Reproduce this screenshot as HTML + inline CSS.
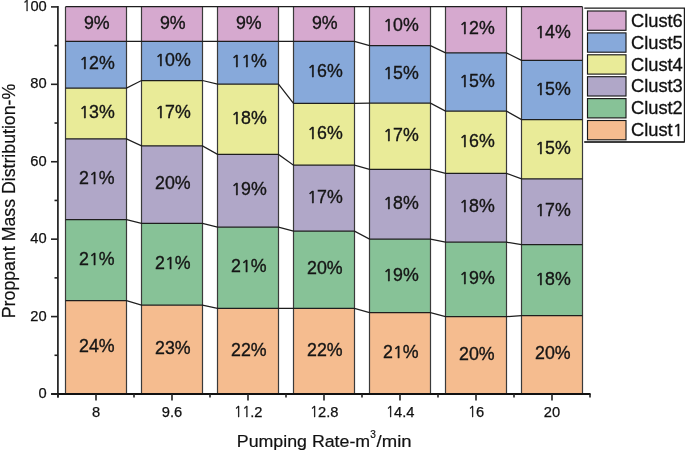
<!DOCTYPE html><html><head><meta charset="utf-8"><style>html,body{margin:0;padding:0;background:#fff;}svg{display:block;}text{font-family:"Liberation Sans",Arial,sans-serif;}</style></head><body>
<svg width="685" height="450" viewBox="0 0 685 450">
<rect width="685" height="450" fill="#fff"/>
<rect x="65.5" y="6.7" width="61" height="34.6" fill="#D6A9CF"/>
<rect x="65.5" y="41.3" width="61" height="46.7" fill="#87A9DA"/>
<rect x="65.5" y="88" width="61" height="50.9" fill="#E9EB98"/>
<rect x="65.5" y="138.9" width="61" height="80.7" fill="#B0A7C8"/>
<rect x="65.5" y="219.6" width="61" height="81.1" fill="#87C297"/>
<rect x="65.5" y="300.7" width="61" height="93.3" fill="#F5BC8F"/>
<rect x="141.5" y="6.7" width="61" height="34.6" fill="#D6A9CF"/>
<rect x="141.5" y="41.3" width="61" height="39.2" fill="#87A9DA"/>
<rect x="141.5" y="80.5" width="61" height="65.4" fill="#E9EB98"/>
<rect x="141.5" y="145.9" width="61" height="77.4" fill="#B0A7C8"/>
<rect x="141.5" y="223.3" width="61" height="81.8" fill="#87C297"/>
<rect x="141.5" y="305.1" width="61" height="88.9" fill="#F5BC8F"/>
<rect x="217.5" y="6.7" width="61" height="34.6" fill="#D6A9CF"/>
<rect x="217.5" y="41.3" width="61" height="42.7" fill="#87A9DA"/>
<rect x="217.5" y="84" width="61" height="70.4" fill="#E9EB98"/>
<rect x="217.5" y="154.4" width="61" height="72.7" fill="#B0A7C8"/>
<rect x="217.5" y="227.1" width="61" height="81.3" fill="#87C297"/>
<rect x="217.5" y="308.4" width="61" height="85.6" fill="#F5BC8F"/>
<rect x="293.5" y="6.7" width="61" height="34.6" fill="#D6A9CF"/>
<rect x="293.5" y="41.3" width="61" height="62" fill="#87A9DA"/>
<rect x="293.5" y="103.3" width="61" height="61.9" fill="#E9EB98"/>
<rect x="293.5" y="165.2" width="61" height="65.9" fill="#B0A7C8"/>
<rect x="293.5" y="231.1" width="61" height="77.3" fill="#87C297"/>
<rect x="293.5" y="308.4" width="61" height="85.6" fill="#F5BC8F"/>
<rect x="369.5" y="6.7" width="61" height="38.9" fill="#D6A9CF"/>
<rect x="369.5" y="45.6" width="61" height="57.5" fill="#87A9DA"/>
<rect x="369.5" y="103.1" width="61" height="66.2" fill="#E9EB98"/>
<rect x="369.5" y="169.3" width="61" height="69.8" fill="#B0A7C8"/>
<rect x="369.5" y="239.1" width="61" height="73.6" fill="#87C297"/>
<rect x="369.5" y="312.7" width="61" height="81.3" fill="#F5BC8F"/>
<rect x="445.5" y="6.7" width="61" height="46.2" fill="#D6A9CF"/>
<rect x="445.5" y="52.9" width="61" height="58.2" fill="#87A9DA"/>
<rect x="445.5" y="111.1" width="61" height="62.2" fill="#E9EB98"/>
<rect x="445.5" y="173.3" width="61" height="68.9" fill="#B0A7C8"/>
<rect x="445.5" y="242.2" width="61" height="74.5" fill="#87C297"/>
<rect x="445.5" y="316.7" width="61" height="77.3" fill="#F5BC8F"/>
<rect x="521.5" y="6.7" width="61" height="53.7" fill="#D6A9CF"/>
<rect x="521.5" y="60.4" width="61" height="59.2" fill="#87A9DA"/>
<rect x="521.5" y="119.6" width="61" height="59.3" fill="#E9EB98"/>
<rect x="521.5" y="178.9" width="61" height="65.8" fill="#B0A7C8"/>
<rect x="521.5" y="244.7" width="61" height="70.9" fill="#87C297"/>
<rect x="521.5" y="315.6" width="61" height="78.4" fill="#F5BC8F"/>
<g stroke="#3a3a3a" stroke-width="1.2">
<line x1="65.5" y1="6.7" x2="65.5" y2="394"/>
<line x1="126.5" y1="6.7" x2="126.5" y2="394"/>
<line x1="141.5" y1="6.7" x2="141.5" y2="394"/>
<line x1="202.5" y1="6.7" x2="202.5" y2="394"/>
<line x1="217.5" y1="6.7" x2="217.5" y2="394"/>
<line x1="278.5" y1="6.7" x2="278.5" y2="394"/>
<line x1="293.5" y1="6.7" x2="293.5" y2="394"/>
<line x1="354.5" y1="6.7" x2="354.5" y2="394"/>
<line x1="369.5" y1="6.7" x2="369.5" y2="394"/>
<line x1="430.5" y1="6.7" x2="430.5" y2="394"/>
<line x1="445.5" y1="6.7" x2="445.5" y2="394"/>
<line x1="506.5" y1="6.7" x2="506.5" y2="394"/>
<line x1="521.5" y1="6.7" x2="521.5" y2="394"/>
<line x1="582.5" y1="6.7" x2="582.5" y2="394"/>
</g>
<g stroke="#1e1e1e" stroke-width="1.25" fill="none">
<polyline points="65.5,6.7 126.5,6.7 141.5,6.7 202.5,6.7 217.5,6.7 278.5,6.7 293.5,6.7 354.5,6.7 369.5,6.7 430.5,6.7 445.5,6.7 506.5,6.7 521.5,6.7 582.5,6.7"/>
<polyline points="65.5,41.3 126.5,41.3 141.5,41.3 202.5,41.3 217.5,41.3 278.5,41.3 293.5,41.3 354.5,41.3 369.5,45.6 430.5,45.6 445.5,52.9 506.5,52.9 521.5,60.4 582.5,60.4"/>
<polyline points="65.5,88 126.5,88 141.5,80.5 202.5,80.5 217.5,84 278.5,84 293.5,103.3 354.5,103.3 369.5,103.1 430.5,103.1 445.5,111.1 506.5,111.1 521.5,119.6 582.5,119.6"/>
<polyline points="65.5,138.9 126.5,138.9 141.5,145.9 202.5,145.9 217.5,154.4 278.5,154.4 293.5,165.2 354.5,165.2 369.5,169.3 430.5,169.3 445.5,173.3 506.5,173.3 521.5,178.9 582.5,178.9"/>
<polyline points="65.5,219.6 126.5,219.6 141.5,223.3 202.5,223.3 217.5,227.1 278.5,227.1 293.5,231.1 354.5,231.1 369.5,239.1 430.5,239.1 445.5,242.2 506.5,242.2 521.5,244.7 582.5,244.7"/>
<polyline points="65.5,300.7 126.5,300.7 141.5,305.1 202.5,305.1 217.5,308.4 278.5,308.4 293.5,308.4 354.5,308.4 369.5,312.7 430.5,312.7 445.5,316.7 506.5,316.7 521.5,315.6 582.5,315.6"/>
</g>
<g font-size="17.8" fill="#151515" stroke="#151515" stroke-width="0.35" text-anchor="middle">
<text x="96.8" y="28.6">9%</text>
<text x="96.8" y="69.25"><tspan font-family="NanumGothic, sans-serif" font-size="16.6" stroke="#151515" stroke-width="0.6" dx="0.21">1</tspan><tspan dx="-0.37">2</tspan>%</text>
<text x="96.8" y="118.05"><tspan font-family="NanumGothic, sans-serif" font-size="16.6" stroke="#151515" stroke-width="0.6" dx="0.21">1</tspan><tspan dx="-0.37">3</tspan>%</text>
<text x="96.8" y="183.85">2<tspan font-family="NanumGothic, sans-serif" font-size="16.6" stroke="#151515" stroke-width="0.6" dx="0.21">1</tspan><tspan dx="-0.37">%</tspan></text>
<text x="96.8" y="264.75">2<tspan font-family="NanumGothic, sans-serif" font-size="16.6" stroke="#151515" stroke-width="0.6" dx="0.21">1</tspan><tspan dx="-0.37">%</tspan></text>
<text x="96.8" y="351.95">24%</text>
<text x="172.8" y="28.6">9%</text>
<text x="172.8" y="65.5"><tspan font-family="NanumGothic, sans-serif" font-size="16.6" stroke="#151515" stroke-width="0.6" dx="0.21">1</tspan><tspan dx="-0.37">0</tspan>%</text>
<text x="172.8" y="117.8"><tspan font-family="NanumGothic, sans-serif" font-size="16.6" stroke="#151515" stroke-width="0.6" dx="0.21">1</tspan><tspan dx="-0.37">7</tspan>%</text>
<text x="172.8" y="189.2">20%</text>
<text x="172.8" y="268.8">2<tspan font-family="NanumGothic, sans-serif" font-size="16.6" stroke="#151515" stroke-width="0.6" dx="0.21">1</tspan><tspan dx="-0.37">%</tspan></text>
<text x="172.8" y="354.15">23%</text>
<text x="248.8" y="28.6">9%</text>
<text x="248.8" y="67.25"><tspan font-family="NanumGothic, sans-serif" font-size="16.6" stroke="#151515" stroke-width="0.6" dx="0.21">1</tspan><tspan font-family="NanumGothic, sans-serif" font-size="16.6" stroke="#151515" stroke-width="0.6" dx="-0.16">1</tspan><tspan dx="-0.37">%</tspan></text>
<text x="248.8" y="123.8"><tspan font-family="NanumGothic, sans-serif" font-size="16.6" stroke="#151515" stroke-width="0.6" dx="0.21">1</tspan><tspan dx="-0.37">8</tspan>%</text>
<text x="248.8" y="195.35"><tspan font-family="NanumGothic, sans-serif" font-size="16.6" stroke="#151515" stroke-width="0.6" dx="0.21">1</tspan><tspan dx="-0.37">9</tspan>%</text>
<text x="248.8" y="272.35">2<tspan font-family="NanumGothic, sans-serif" font-size="16.6" stroke="#151515" stroke-width="0.6" dx="0.21">1</tspan><tspan dx="-0.37">%</tspan></text>
<text x="248.8" y="355.8">22%</text>
<text x="324.8" y="28.6">9%</text>
<text x="324.8" y="76.9"><tspan font-family="NanumGothic, sans-serif" font-size="16.6" stroke="#151515" stroke-width="0.6" dx="0.21">1</tspan><tspan dx="-0.37">6</tspan>%</text>
<text x="324.8" y="138.85"><tspan font-family="NanumGothic, sans-serif" font-size="16.6" stroke="#151515" stroke-width="0.6" dx="0.21">1</tspan><tspan dx="-0.37">6</tspan>%</text>
<text x="324.8" y="202.75"><tspan font-family="NanumGothic, sans-serif" font-size="16.6" stroke="#151515" stroke-width="0.6" dx="0.21">1</tspan><tspan dx="-0.37">7</tspan>%</text>
<text x="324.8" y="274.35">20%</text>
<text x="324.8" y="355.8">22%</text>
<text x="400.8" y="30.75"><tspan font-family="NanumGothic, sans-serif" font-size="16.6" stroke="#151515" stroke-width="0.6" dx="0.21">1</tspan><tspan dx="-0.37">0</tspan>%</text>
<text x="400.8" y="78.95"><tspan font-family="NanumGothic, sans-serif" font-size="16.6" stroke="#151515" stroke-width="0.6" dx="0.21">1</tspan><tspan dx="-0.37">5</tspan>%</text>
<text x="400.8" y="140.8"><tspan font-family="NanumGothic, sans-serif" font-size="16.6" stroke="#151515" stroke-width="0.6" dx="0.21">1</tspan><tspan dx="-0.37">7</tspan>%</text>
<text x="400.8" y="208.8"><tspan font-family="NanumGothic, sans-serif" font-size="16.6" stroke="#151515" stroke-width="0.6" dx="0.21">1</tspan><tspan dx="-0.37">8</tspan>%</text>
<text x="400.8" y="280.5"><tspan font-family="NanumGothic, sans-serif" font-size="16.6" stroke="#151515" stroke-width="0.6" dx="0.21">1</tspan><tspan dx="-0.37">9</tspan>%</text>
<text x="400.8" y="357.95">2<tspan font-family="NanumGothic, sans-serif" font-size="16.6" stroke="#151515" stroke-width="0.6" dx="0.21">1</tspan><tspan dx="-0.37">%</tspan></text>
<text x="476.8" y="34.4"><tspan font-family="NanumGothic, sans-serif" font-size="16.6" stroke="#151515" stroke-width="0.6" dx="0.21">1</tspan><tspan dx="-0.37">2</tspan>%</text>
<text x="476.8" y="86.6"><tspan font-family="NanumGothic, sans-serif" font-size="16.6" stroke="#151515" stroke-width="0.6" dx="0.21">1</tspan><tspan dx="-0.37">5</tspan>%</text>
<text x="476.8" y="146.8"><tspan font-family="NanumGothic, sans-serif" font-size="16.6" stroke="#151515" stroke-width="0.6" dx="0.21">1</tspan><tspan dx="-0.37">6</tspan>%</text>
<text x="476.8" y="212.35"><tspan font-family="NanumGothic, sans-serif" font-size="16.6" stroke="#151515" stroke-width="0.6" dx="0.21">1</tspan><tspan dx="-0.37">8</tspan>%</text>
<text x="476.8" y="284.05"><tspan font-family="NanumGothic, sans-serif" font-size="16.6" stroke="#151515" stroke-width="0.6" dx="0.21">1</tspan><tspan dx="-0.37">9</tspan>%</text>
<text x="476.8" y="359.95">20%</text>
<text x="552.8" y="38.15"><tspan font-family="NanumGothic, sans-serif" font-size="16.6" stroke="#151515" stroke-width="0.6" dx="0.21">1</tspan><tspan dx="-0.37">4</tspan>%</text>
<text x="552.8" y="94.6"><tspan font-family="NanumGothic, sans-serif" font-size="16.6" stroke="#151515" stroke-width="0.6" dx="0.21">1</tspan><tspan dx="-0.37">5</tspan>%</text>
<text x="552.8" y="153.85"><tspan font-family="NanumGothic, sans-serif" font-size="16.6" stroke="#151515" stroke-width="0.6" dx="0.21">1</tspan><tspan dx="-0.37">5</tspan>%</text>
<text x="552.8" y="216.4"><tspan font-family="NanumGothic, sans-serif" font-size="16.6" stroke="#151515" stroke-width="0.6" dx="0.21">1</tspan><tspan dx="-0.37">7</tspan>%</text>
<text x="552.8" y="284.75"><tspan font-family="NanumGothic, sans-serif" font-size="16.6" stroke="#151515" stroke-width="0.6" dx="0.21">1</tspan><tspan dx="-0.37">8</tspan>%</text>
<text x="552.8" y="359.4">20%</text>
</g>
<g stroke="#222" stroke-width="1.6" fill="none">
<line x1="57.9" y1="6.1" x2="57.9" y2="397.5" stroke-width="1.8" stroke="#2a2a2a"/>
<line x1="51.2" y1="394" x2="590.6" y2="394" stroke-width="2" stroke="#111"/>
<line x1="51" y1="394" x2="58.0" y2="394"/>
<line x1="54.5" y1="355.29" x2="58.0" y2="355.29"/>
<line x1="51" y1="316.58" x2="58.0" y2="316.58"/>
<line x1="54.5" y1="277.87" x2="58.0" y2="277.87"/>
<line x1="51" y1="239.16" x2="58.0" y2="239.16"/>
<line x1="54.5" y1="200.45" x2="58.0" y2="200.45"/>
<line x1="51" y1="161.74" x2="58.0" y2="161.74"/>
<line x1="54.5" y1="123.03" x2="58.0" y2="123.03"/>
<line x1="51" y1="84.32" x2="58.0" y2="84.32"/>
<line x1="54.5" y1="45.61" x2="58.0" y2="45.61"/>
<line x1="51" y1="6.9" x2="58.0" y2="6.9"/>
<line x1="96" y1="394.0" x2="96" y2="400.5"/>
<line x1="172" y1="394.0" x2="172" y2="400.5"/>
<line x1="248" y1="394.0" x2="248" y2="400.5"/>
<line x1="324" y1="394.0" x2="324" y2="400.5"/>
<line x1="400" y1="394.0" x2="400" y2="400.5"/>
<line x1="476" y1="394.0" x2="476" y2="400.5"/>
<line x1="552" y1="394.0" x2="552" y2="400.5"/>
<line x1="58" y1="394.0" x2="58" y2="397.5"/>
<line x1="134" y1="394.0" x2="134" y2="397.5"/>
<line x1="210" y1="394.0" x2="210" y2="397.5"/>
<line x1="286" y1="394.0" x2="286" y2="397.5"/>
<line x1="362" y1="394.0" x2="362" y2="397.5"/>
<line x1="438" y1="394.0" x2="438" y2="397.5"/>
<line x1="514" y1="394.0" x2="514" y2="397.5"/>
<line x1="590" y1="394.0" x2="590" y2="397.5"/>
</g>
<g font-size="14.7" fill="#111" stroke="#111" stroke-width="0.25">
<text x="46.6" y="398.1" text-anchor="end">0</text>
<text x="46.6" y="320.68" text-anchor="end">20</text>
<text x="46.6" y="243.26" text-anchor="end">40</text>
<text x="46.6" y="165.84" text-anchor="end">60</text>
<text x="46.6" y="88.42" text-anchor="end">80</text>
<text x="46.6" y="11" text-anchor="end"><tspan font-family="NanumGothic, sans-serif" font-size="13.71" stroke="#151515" stroke-width="0.3" dx="0.18">1</tspan><tspan dx="-0.31">0</tspan>0</text>
<text x="96" y="417" text-anchor="middle">8</text>
<text x="172" y="417" text-anchor="middle">9.6</text>
<text x="248" y="417" text-anchor="middle"><tspan font-family="NanumGothic, sans-serif" font-size="13.71" stroke="#151515" stroke-width="0.3" dx="0.18">1</tspan><tspan font-family="NanumGothic, sans-serif" font-size="13.71" stroke="#151515" stroke-width="0.3" dx="-0.13">1</tspan><tspan dx="-0.31">.</tspan>2</text>
<text x="324" y="417" text-anchor="middle"><tspan font-family="NanumGothic, sans-serif" font-size="13.71" stroke="#151515" stroke-width="0.3" dx="0.18">1</tspan><tspan dx="-0.31">2</tspan>.8</text>
<text x="400" y="417" text-anchor="middle"><tspan font-family="NanumGothic, sans-serif" font-size="13.71" stroke="#151515" stroke-width="0.3" dx="0.18">1</tspan><tspan dx="-0.31">4</tspan>.4</text>
<text x="476" y="417" text-anchor="middle"><tspan font-family="NanumGothic, sans-serif" font-size="13.71" stroke="#151515" stroke-width="0.3" dx="0.18">1</tspan><tspan dx="-0.31">6</tspan></text>
<text x="552" y="417" text-anchor="middle">20</text>
</g>
<g fill="#111" stroke="#111" stroke-width="0.2"><text transform="translate(236.8,446.8) scale(1.028,1)" font-size="17.3">Pumping Rate-m</text>
<text transform="translate(370.3,437.9) scale(0.9,1)" font-size="11.2">3</text>
<text transform="translate(376.6,446.8) scale(1.07,1)" font-size="17.3">/min</text></g>
<text transform="translate(14.9,318.2) rotate(-90) scale(0.985,1)" font-size="18" fill="#111" stroke="#111" stroke-width="0.2">Proppant Mass Distribution-%</text>
<path d="M584.3 8.2 H684.4 V142 H584.3" fill="#fff" stroke="#1a1a1a" stroke-width="1.2"/>
<line x1="584.3" y1="142" x2="684.4" y2="142" stroke="#222" stroke-width="1.4"/>
<rect x="587.5" y="11" width="38.5" height="19.3" fill="#D6A9CF" stroke="#1a1a1a" stroke-width="1.15"/>
<text transform="translate(631,26.7) scale(1.045,1)" font-size="17.5" fill="#111" stroke="#111" stroke-width="0.3">Clust6</text>
<rect x="587.5" y="32.9" width="38.5" height="19.3" fill="#87A9DA" stroke="#1a1a1a" stroke-width="1.15"/>
<text transform="translate(631,48.6) scale(1.045,1)" font-size="17.5" fill="#111" stroke="#111" stroke-width="0.3">Clust5</text>
<rect x="587.5" y="54.8" width="38.5" height="19.3" fill="#E9EB98" stroke="#1a1a1a" stroke-width="1.15"/>
<text transform="translate(631,70.5) scale(1.045,1)" font-size="17.5" fill="#111" stroke="#111" stroke-width="0.3">Clust4</text>
<rect x="587.5" y="76.7" width="38.5" height="19.3" fill="#B0A7C8" stroke="#1a1a1a" stroke-width="1.15"/>
<text transform="translate(631,92.4) scale(1.045,1)" font-size="17.5" fill="#111" stroke="#111" stroke-width="0.3">Clust3</text>
<rect x="587.5" y="98.6" width="38.5" height="19.3" fill="#87C297" stroke="#1a1a1a" stroke-width="1.15"/>
<text transform="translate(631,114.3) scale(1.045,1)" font-size="17.5" fill="#111" stroke="#111" stroke-width="0.3">Clust2</text>
<rect x="587.5" y="120.5" width="38.5" height="19.3" fill="#F5BC8F" stroke="#1a1a1a" stroke-width="1.15"/>
<text transform="translate(631,136.2) scale(1.045,1)" font-size="17.5" fill="#111" stroke="#111" stroke-width="0.3">Clust<tspan font-family="NanumGothic, sans-serif" font-size="16.32" stroke="#151515" stroke-width="0.55" dx="0.21">1</tspan></text>
</svg></body></html>
